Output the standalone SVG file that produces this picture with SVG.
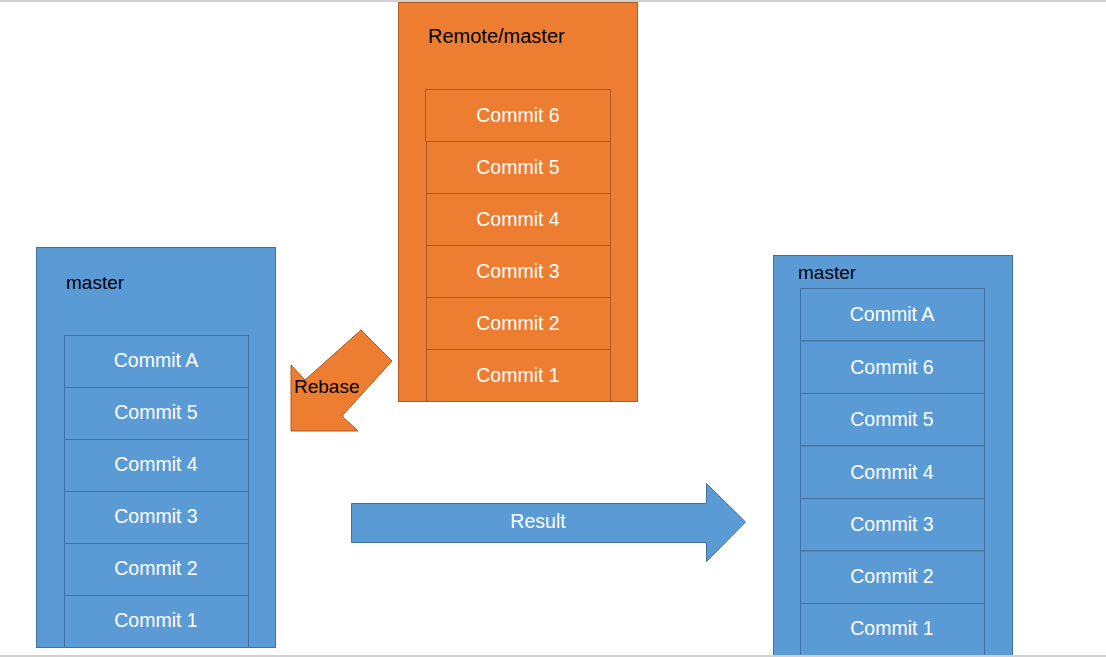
<svg xmlns="http://www.w3.org/2000/svg" width="1106" height="657" viewBox="0 0 1106 657">
<style>
.blue{fill:#5B9BD5;stroke:#41719C;stroke-width:1}
.orange{fill:#ED7D31;stroke:#AE5A21;stroke-width:1}
.ct{font-family:"Liberation Sans",Arial,sans-serif;font-size:19.5px;fill:#fff;text-anchor:middle}
.lb{font-family:"Liberation Sans",Arial,sans-serif;font-size:19px;fill:#000}
</style>
<rect x="0" y="0" width="1106" height="657" fill="#fff"/>
<line x1="0" y1="1" x2="1106" y2="1" stroke="#d0d0d0" stroke-width="2"/>
<g id="remote">
<rect class="orange" x="398.5" y="2.5" width="239" height="399"/>
<text class="lb" x="428" y="43" style="font-size:20px">Remote/master</text>
<rect class="orange" x="425.5" y="89.5" width="185" height="52"/><text class="ct" x="518" y="121.5">Commit 6</text>
<rect class="orange" x="426.5" y="141.5" width="184" height="52"/><text class="ct" x="518" y="173.5">Commit 5</text>
<rect class="orange" x="426.5" y="193.5" width="184" height="52"/><text class="ct" x="518" y="225.5">Commit 4</text>
<rect class="orange" x="426.5" y="245.5" width="184" height="52"/><text class="ct" x="518" y="277.5">Commit 3</text>
<rect class="orange" x="426.5" y="297.5" width="184" height="52"/><text class="ct" x="518" y="329.5">Commit 2</text>
<rect class="orange" x="426.5" y="349.5" width="184" height="52"/><text class="ct" x="518" y="381.5">Commit 1</text>
</g>
<g id="local">
<rect class="blue" x="36.5" y="247.5" width="239" height="400"/>
<text class="lb" x="66" y="289">master</text>
<rect class="blue" x="64.5" y="335.5" width="184" height="52"/><text class="ct" x="156" y="367">Commit A</text>
<rect class="blue" x="64.5" y="387.5" width="184" height="52"/><text class="ct" x="156" y="419">Commit 5</text>
<rect class="blue" x="64.5" y="439.5" width="184" height="52"/><text class="ct" x="156" y="471">Commit 4</text>
<rect class="blue" x="64.5" y="491.5" width="184" height="52"/><text class="ct" x="156" y="523">Commit 3</text>
<rect class="blue" x="64.5" y="543.5" width="184" height="52"/><text class="ct" x="156" y="575">Commit 2</text>
<rect class="blue" x="64.5" y="595.5" width="184" height="52"/><text class="ct" x="156" y="627">Commit 1</text>
</g>
<g id="result">
<rect class="blue" x="773.5" y="255.5" width="239" height="401"/>
<text class="lb" x="798" y="279">master</text>
<rect class="blue" x="800.5" y="288.5" width="184" height="52.5"/><text class="ct" x="892" y="321">Commit A</text>
<rect class="blue" x="800.5" y="341" width="184" height="52.5"/><text class="ct" x="892" y="373.5">Commit 6</text>
<rect class="blue" x="800.5" y="393.5" width="184" height="52.5"/><text class="ct" x="892" y="426">Commit 5</text>
<rect class="blue" x="800.5" y="446" width="184" height="52.5"/><text class="ct" x="892" y="478.5">Commit 4</text>
<rect class="blue" x="800.5" y="498.5" width="184" height="52.5"/><text class="ct" x="892" y="531">Commit 3</text>
<rect class="blue" x="800.5" y="551" width="184" height="52.5"/><text class="ct" x="892" y="583">Commit 2</text>
<rect class="blue" x="800.5" y="603.5" width="184" height="53"/><text class="ct" x="892" y="635">Commit 1</text>
</g>
<g id="connectors">
<g id="rebase-arrow">
<polygon class="orange" points="291,431 291,365 305,380 361,330 392,361 342,416 358,431"/>
<text class="lb" x="294" y="393">Rebase</text>
</g>
<g id="result-arrow">
<polygon class="blue" points="351.5,503.5 706.5,503.5 706.5,483.5 745.5,522 706.5,561.5 706.5,542.5 351.5,542.5"/>
<text class="ct" x="538" y="527.5">Result</text>
</g>
</g>
<line x1="0" y1="656" x2="1106" y2="656" stroke="#d0d0d0" stroke-width="2"/>
</svg>
